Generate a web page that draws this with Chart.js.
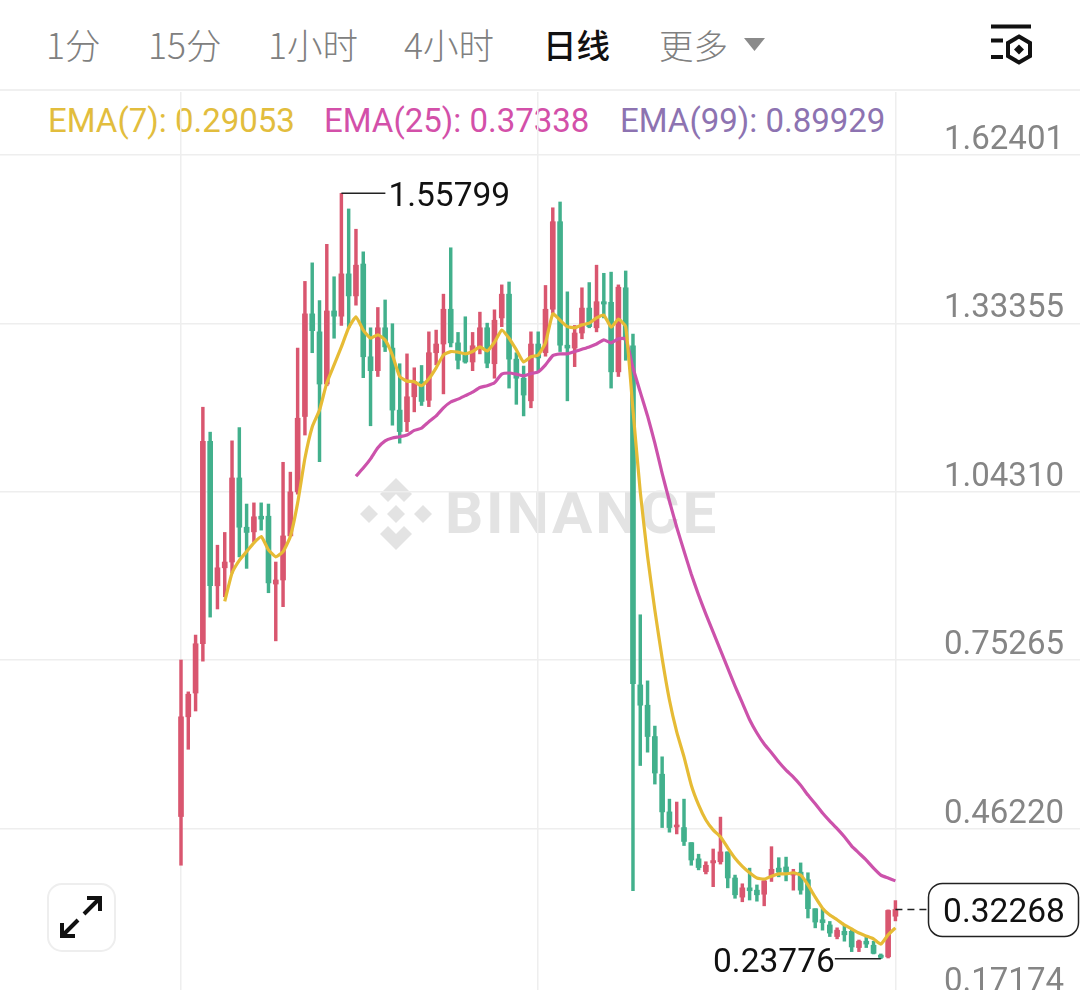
<!DOCTYPE html>
<html>
<head>
<meta charset="utf-8">
<script src="https://cdn.jsdelivr.net/npm/chart.js@4"></script>
<style>
  html, body { margin: 0; padding: 0; background: #fff; overflow: hidden; }
  #page { position: relative; width: 1080px; height: 990px; overflow: hidden; font-family: Roboto, "Noto Sans CJK SC", sans-serif; }
  #page span, #page div.abs { position: absolute; white-space: nowrap; }
  .tab { top: 21px; font-size: 35.5px; line-height: 46px; color: #808080; font-family: "Noto Sans CJK SC", sans-serif; font-weight: 300; }
  .tab.on { color: #111; font-weight: 500; font-size: 33.5px; }
  .ema { top: 102px; font-size: 33px; line-height: 38px; }
  #rule { position: absolute; left: 0; top: 89px; width: 1080px; height: 2px; background: #f0f0f0; }
  #wm { left: 445px; top: 473px; font-size: 60px; line-height: 80px; font-weight: 700; color: #e3e3e3; letter-spacing: 2.8px; }
  canvas { position: absolute; left: 0; top: 92px; }
  svg { position: absolute; }
  #expand { position: absolute; left: 47px; top: 883px; width: 65px; height: 65px; border: 2.5px solid #eeeeee; border-radius: 15px; background: #fff; }
</style>
</head>
<body>
<div id="page">
  <span class="tab" style="left:46px">1分</span>
  <span class="tab" style="left:148px">15分</span>
  <span class="tab" style="left:268px">1小时</span>
  <span class="tab" style="left:404px">4小时</span>
  <span class="tab on" style="left:543px">日线</span>
  <span class="tab" style="left:659px;font-size:34.5px">更多</span>
  <svg style="left:744px;top:38px" width="22" height="14"><path d="M0 0H21L10.5 13Z" fill="#8a8a8a"/></svg>
  <svg style="left:988px;top:24px" width="46" height="42" fill="none" stroke="#111" stroke-width="4">
    <path d="M3 2.5H43M3 16.5H15M3 33H15"/>
    <path d="M31 12.5L42 19V32L31 38.5L20 32V19Z"/>
    <path d="M31 20.5L36 25.5L31 30.5L26 25.5Z" fill="#111" stroke="none"/>
  </svg>
  <div id="rule"></div>
  <span class="ema" style="left:48px;color:#e2bd3d">EMA(7): 0.29053</span>
  <span class="ema" style="left:324px;color:#d350a9">EMA(25): 0.37338</span>
  <span class="ema" style="left:620px;color:#8d73b1">EMA(99): 0.89929</span>
  <svg style="left:360px;top:478px" width="72" height="72" fill="#e3e3e3">
    <path d="M36 0L52 16L44 24L36 16L28 24L20 16Z"/>
    <path d="M36 72L52 56L44 48L36 56L28 48L20 56Z"/>
    <path d="M36 27L45 36L36 45L27 36Z"/>
    <path d="M9 27L18 36L9 45L0 36Z"/>
    <path d="M63 27L72 36L63 45L54 36Z"/>
  </svg>
  <span id="wm">BINANCE</span>
  <canvas id="klineChart" width="1080" height="918"></canvas>
  <div id="expand"></div>
  <svg style="left:58px;top:894px" width="46" height="46" fill="none" stroke="#111" stroke-width="4">
    <path d="M26 20L42 4M29 4H42V17M20 26L4 42M4 29V42H17"/>
  </svg>
</div>
<script>
const opens = [0.483,0.655,0.696,0.781,1.130,0.881,0.912,0.922,1.067,0.982,0.974,1.001,1.001,0.884,0.891,0.967,1.043,1.173,1.350,1.319,
  1.229,1.355,1.346,1.419,1.381,1.436,1.276,1.252,1.326,1.291,1.184,1.164,1.207,1.233,1.201,1.283,1.298,1.358,1.300,1.283,
  1.267,1.293,1.326,1.264,1.343,1.384,1.272,1.239,1.200,1.298,1.283,1.358,1.509,1.296,1.291,1.317,1.360,1.326,1.371,1.370,
  1.250,1.395,1.295,0.710,0.675,0.621,0.556,0.491,0.465,0.464,0.438,0.410,0.388,0.403,0.405,0.422,0.377,0.344,0.360,0.356,
  0.349,0.379,0.394,0.396,0.382,0.387,0.374,0.324,0.305,0.296,0.276,0.285,0.285,0.257,0.268,0.261,0.244,0.241,0.311]
const highs = [0.753,0.698,0.796,1.189,1.146,0.951,0.973,1.131,1.154,1.022,1.024,1.024,1.022,0.922,1.094,1.077,1.291,1.406,1.438,1.373,
  1.470,1.414,1.55799,1.531,1.496,1.457,1.326,1.361,1.374,1.333,1.264,1.281,1.257,1.261,1.319,1.322,1.384,1.464,1.318,1.345,
  1.318,1.353,1.334,1.357,1.400,1.405,1.283,1.260,1.319,1.319,1.399,1.533,1.543,1.388,1.330,1.395,1.404,1.434,1.420,1.422,
  1.400,1.424,1.315,0.831,0.717,0.639,0.586,0.513,0.508,0.513,0.438,0.418,0.405,0.427,0.482,0.422,0.382,0.367,0.394,0.365,
  0.373,0.431,0.412,0.413,0.392,0.403,0.386,0.324,0.324,0.302,0.291,0.295,0.289,0.270,0.275,0.268,0.246,0.322,0.338]
const lows = [0.399,0.599,0.665,0.751,0.827,0.841,0.862,0.903,0.931,0.911,0.957,0.977,0.869,0.786,0.845,0.967,1.039,1.141,1.283,1.095,
  1.226,1.308,1.330,1.326,1.365,1.240,1.157,1.242,1.285,1.158,1.127,1.147,1.181,1.192,1.190,1.262,1.212,1.293,1.255,1.265,
  1.252,1.281,1.257,1.239,1.328,1.222,1.194,1.174,1.188,1.250,1.277,1.351,1.285,1.200,1.259,1.307,1.326,1.319,1.343,1.222,
  1.242,1.270,0.355,0.571,0.594,0.539,0.464,0.456,0.453,0.433,0.399,0.391,0.384,0.362,0.401,0.360,0.342,0.336,0.339,0.337,
  0.329,0.371,0.379,0.372,0.356,0.349,0.308,0.291,0.287,0.276,0.272,0.268,0.250,0.250,0.257,0.246,0.23776,0.239,0.303]
const closes = [0.655,0.694,0.781,1.130,0.881,0.912,0.922,1.067,0.982,0.973,1.000,0.996,0.886,0.891,0.967,1.043,1.170,1.350,1.321,1.229,
  1.355,1.346,1.419,1.381,1.434,1.276,1.252,1.326,1.293,1.184,1.147,1.207,1.233,1.199,1.283,1.298,1.358,1.300,1.270,1.267,
  1.295,1.326,1.265,1.339,1.384,1.272,1.239,1.210,1.298,1.274,1.358,1.509,1.296,1.291,1.317,1.360,1.328,1.371,1.367,1.250,
  1.396,1.305,0.712,0.675,0.621,0.558,0.491,0.464,0.468,0.440,0.408,0.395,0.399,0.407,0.422,0.377,0.348,0.360,0.355,0.348,
  0.372,0.392,0.387,0.387,0.387,0.356,0.324,0.301,0.300,0.282,0.287,0.279,0.258,0.268,0.263,0.247,0.240,0.321,0.32268]

// EMA lines start after their warm up
const ema7Start = 6
const ema7 = [0.854,0.903,0.925,0.940,0.955,0.966,0.943,0.931,0.940,0.966,1.024,1.101,1.155,1.184,1.231,1.262,1.293,1.326,1.345,1.322,
  1.308,1.314,1.305,1.279,1.242,1.234,1.233,1.226,1.238,1.257,1.279,1.285,1.284,1.281,1.285,1.293,1.286,1.301,1.322,1.308,
  1.288,1.267,1.276,1.279,1.300,1.350,1.339,1.328,1.326,1.331,1.334,1.343,1.348,1.327,1.341,1.328,1.184,1.043,0.932,0.839,
  0.756,0.684,0.629,0.586,0.537,0.503,0.477,0.460,0.448,0.429,0.411,0.397,0.386,0.377,0.375,0.380,0.384,0.384,0.386,0.382,
  0.365,0.344,0.325,0.313,0.305,0.296,0.289,0.282,0.277,0.272,0.263,0.279,0.291]
const ema25Start = 24
const ema25 = [1.070,1.084,1.100,1.119,1.131,1.136,1.138,1.141,1.149,1.153,1.164,1.174,1.188,1.198,1.203,1.209,1.215,1.223,1.226,1.231,
  1.246,1.248,1.246,1.243,1.247,1.250,1.262,1.278,1.281,1.281,1.285,1.289,1.293,1.298,1.305,1.300,1.307,1.307,1.257,1.215,
  1.174,1.127,1.075,1.027,0.982,0.941,0.901,0.865,0.832,0.801,0.770,0.739,0.708,0.679,0.650,0.627,0.608,0.593,0.577,0.563,
  0.551,0.537,0.520,0.505,0.489,0.475,0.462,0.448,0.432,0.420,0.408,0.394,0.382,0.377,0.372]

const priceTicks = [1.62401, 1.33355, 1.04310, 0.75265, 0.46220, 0.17174]
const timeTicks = [0, 49, 98]
const maxPrice = 1.55799, maxIndex = 22
const minPrice = 0.23776, minIndex = 96
const lastPrice = 0.32268, lastIndex = 98

const red = '#d9566f'
const green = '#42b08c'
const barColors = closes.map((c, i) => c >= opens[i] ? red : green)

function pointsFrom(values, start) {
  return values.map((v, i) => ({ x: start + i, y: v }))
}

// price labels sit above their grid lines, plus the high/low leaders and the current price box
const priceMarks = {
  id: 'priceMarks',
  afterDatasetsDraw(chart) {
    const { ctx, scales: { x, y } } = chart
    ctx.save()
    ctx.font = '33px Roboto'
    ctx.textAlign = 'right'
    ctx.textBaseline = 'alphabetic'
    ctx.fillStyle = '#858585'
    priceTicks.forEach(v => ctx.fillText(v.toFixed(5), 1064, y.getPixelForValue(v) - 6))

    ctx.font = '33.5px Roboto'
    ctx.textBaseline = 'middle'
    ctx.fillStyle = '#111'
    ctx.strokeStyle = '#222'
    ctx.lineWidth = 1.5

    const hx = x.getPixelForValue(maxIndex), hy = y.getPixelForValue(maxPrice)
    ctx.beginPath()
    ctx.moveTo(hx, hy)
    ctx.lineTo(hx + 44, hy)
    ctx.stroke()
    ctx.textAlign = 'left'
    ctx.fillText(maxPrice.toFixed(5), hx + 47, hy + 4)

    const lx = x.getPixelForValue(minIndex), ly = y.getPixelForValue(minPrice)
    ctx.beginPath()
    ctx.moveTo(lx, ly)
    ctx.lineTo(lx - 46, ly)
    ctx.stroke()
    ctx.textAlign = 'right'
    ctx.fillText(minPrice.toFixed(5), lx - 46, ly + 5)

    const px = x.getPixelForValue(lastIndex), py = y.getPixelForValue(lastPrice)
    ctx.setLineDash([7, 5])
    ctx.beginPath()
    ctx.moveTo(px, py)
    ctx.lineTo(928, py)
    ctx.stroke()
    ctx.setLineDash([])
    ctx.beginPath()
    ctx.roundRect(928.5, py - 26, 150, 53, 14)
    ctx.fillStyle = '#fff'
    ctx.fill()
    ctx.stroke()
    ctx.fillStyle = '#111'
    ctx.textAlign = 'center'
    ctx.fillText(lastPrice.toFixed(5), 1004, py + 4)
    ctx.restore()
  }
}

new Chart(document.getElementById('klineChart'), {
  data: {
    datasets: [
      {
        type: 'line', label: 'EMA(7)', order: 1,
        data: pointsFrom(ema7, ema7Start),
        borderColor: '#e6bb35', borderWidth: 3.2, pointRadius: 0, tension: 0.15, borderJoinStyle: 'round'
      },
      {
        type: 'line', label: 'EMA(25)', order: 1,
        data: pointsFrom(ema25, ema25Start),
        borderColor: '#cc52ab', borderWidth: 3.2, pointRadius: 0, tension: 0.15, borderJoinStyle: 'round'
      },
      {
        type: 'bar', label: 'body', order: 2, grouped: false,
        data: closes.map((c, i) => ({ x: i, y: [opens[i], c] })),
        backgroundColor: barColors, barThickness: 5, minBarLength: 2
      },
      {
        type: 'bar', label: 'wick', order: 3, grouped: false,
        data: highs.map((h, i) => ({ x: i, y: [lows[i], h] })),
        backgroundColor: barColors, barThickness: 2.8
      }
    ]
  },
  options: {
    responsive: false,
    animation: false,
    devicePixelRatio: 1,
    layout: { padding: 0 },
    plugins: { legend: { display: false }, tooltip: { enabled: false } },
    scales: {
      x: {
        type: 'linear', offset: false,
        min: -24.829, max: 123.32,
        afterBuildTicks(axis) { axis.ticks = timeTicks.map(v => ({ value: v })) },
        grid: { color: '#eeeeee', lineWidth: 1.5, drawTicks: false, offset: false },
        border: { display: false },
        ticks: { display: false }
      },
      y: {
        position: 'right',
        min: 0.1493, max: 1.7327,
        afterBuildTicks(axis) { axis.ticks = priceTicks.map(v => ({ value: v })) },
        afterFit(axis) { axis.width = 0 },
        grid: { color: '#eeeeee', lineWidth: 1.5, drawTicks: false },
        border: { display: false },
        ticks: { display: false }
      }
    }
  },
  plugins: [priceMarks]
})
</script>
</body>
</html>
